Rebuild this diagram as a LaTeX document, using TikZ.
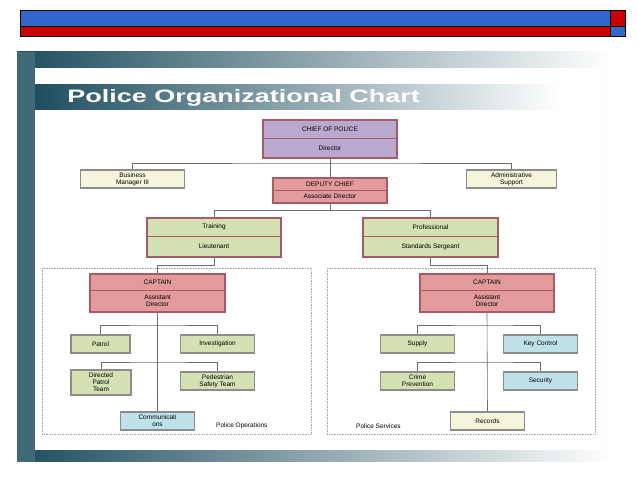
\documentclass[tikz,border=0pt]{standalone}
\usepackage{fontspec}
\setmainfont{Liberation Sans}
\usetikzlibrary{calc}
\definecolor{teal1}{HTML}{1F4E5F}
\definecolor{barblue}{HTML}{3366CC}
\definecolor{barred}{HTML}{CC0000}
\definecolor{purp}{HTML}{B9A9CF}
\definecolor{pinkf}{HTML}{E29A9A}
\definecolor{greenf}{HTML}{D5E0B3}
\definecolor{yelf}{HTML}{F5F5DC}
\definecolor{bluef}{HTML}{BFE1EA}
\definecolor{redb}{HTML}{A85A66}
\definecolor{grayb}{HTML}{8C8C8C}
\definecolor{lineg}{HTML}{6E6E6E}
\tikzset{
  big/.style={draw=redb,line width=1.3pt,inner sep=0pt},
  small/.style={draw=grayb,line width=1.5pt,inner sep=0pt,minimum width=74pt,minimum height=18pt,align=center,font=\fontsize{6.5}{7}\selectfont},
  lbl/.style={inner sep=0pt,align=center,font=\fontsize{6.5}{7}\selectfont},
  conn/.style={draw=lineg,line width=0.6pt},
  region/.style={draw=gray!70,densely dotted,line width=0.6pt}
}
\begin{document}
\begin{tikzpicture}[x=1pt,y=-1pt]
\useasboundingbox (0,0) rectangle (638,478);
\fill[white] (0,0) rectangle (638,478);
% top bars
\fill[barblue] (20,10) rectangle (610,26);
\fill[barred] (610,10) rectangle (625,26);
\fill[barred] (20,26) rectangle (610,36);
\fill[barblue] (610,26) rectangle (625,36);
\draw[black,line width=0.5pt] (20,10) rectangle (625,36) (610,10)--(610,36) (20,26)--(625,26);
% panel
\shade[left color=teal1,right color=white] (17,52) rectangle (612,462);
\fill[teal1!85] (17,52) rectangle (35,462);
\fill[white] (35,68) rectangle (600,450);
\shade[left color=teal1,right color=white] (35,85) rectangle (560,110);
\node[anchor=west,text=white,xscale=1.5,font=\bfseries\fontsize{18}{18}\selectfont] (title) at (62,97.5) {Police Organizational Chart};
% regions
\draw[region] (42,268) rectangle (311,434);
\draw[region] (327,268) rectangle (595,434);
\node[lbl,anchor=west] (ops) at (216,426) {Police Operations};
\node[lbl,anchor=west] (svc) at (356,426) {Police Services};
% two-part boxes
\newcommand{\twobox}[9]{% name, x1,y1,x2,y2,ydiv,fill,top,bottom
  \node[big,fill=#7,minimum width={#4-#2},minimum height={#5-#3}] (#1) at ({(#2+#4)/2},{(#3+#5)/2}) {};
  \draw[redb,line width=0.6pt] (#2,#6)--(#4,#6);
  \node[lbl] (#1t) at ({(#2+#4)/2},{(#3+#6)/2}) {#8};
  \node[lbl] (#1b) at ({(#2+#4)/2},{(#6+#5)/2}) {#9};}
\twobox{chief}{263}{120}{397}{158}{138}{purp}{CHIEF OF POLICE}{Director}
\twobox{deputy}{273}{178}{387}{203}{190}{pinkf}{DEPUTY CHIEF}{Associate Director}
\twobox{train}{147}{218}{281}{257}{236}{greenf}{Training}{Lieutenant}
\twobox{prof}{363}{218}{498}{257}{236}{greenf}{Professional}{Standards Sergeant}
\twobox{capl}{90}{274}{225}{312}{290}{pinkf}{CAPTAIN}{Assistant\\Director}
\twobox{capr}{420}{274}{554}{312}{290}{pinkf}{CAPTAIN}{Assistant\\Director}
% small boxes
\node[small,fill=yelf,minimum width=104pt] (bus) at (132.5,179) {Business\\Manager III};
\node[small,fill=yelf,minimum width=90pt] (adm) at (511.5,179) {Administrative\\Support};
\node[small,fill=greenf,minimum width=59pt] (patrol) at (100.5,344) {Patrol};
\node[small,fill=greenf] (inv) at (217.5,344) {Investigation};
\node[small,fill=greenf,minimum width=60pt,minimum height=25pt] (dir) at (101,382.5) {Directed\\Patrol\\Team};
\node[small,fill=greenf] (ped) at (217.5,381) {Pedestrian\\Safety Team};
\node[small,fill=bluef] (comm) at (157.5,421) {Communicati\\ons};
\node[small,fill=greenf] (sup) at (417.5,344) {Supply};
\node[small,fill=bluef] (key) at (540.5,344) {Key Control};
\node[small,fill=greenf] (crime) at (417.5,381) {Crime\\Prevention};
\node[small,fill=bluef] (sec) at (540.5,381) {Security};
\node[small,fill=yelf] (rec) at (487.5,421) {Records};
% connectors
\draw[conn] (chief.south)--(deputy.north);
\draw[conn] (bus.north) |- (330,163) -| (adm.north);
\draw[conn] (deputy.south) -- ++(0,7) coordinate (dj);
\draw[conn] (train.north) |- (dj) -| (prof.north);
\draw[conn] (train.south) -- ++(0,8) -| (capl.north);
\draw[conn] (prof.south) -- ++(0,8) -| (capr.north);
\draw[conn] (capl.south)--(comm.north);
\draw[conn] (patrol.north) |- (157.5,325) -| (inv.north);
\draw[conn] (dir.north) |- (157.5,362) -| (ped.north);
\draw[conn] (capr.south)--(rec.north);
\draw[conn] (sup.north) |- (487,325) -| (key.north);
\draw[conn] (crime.north) |- (487,362) -| (sec.north);
\end{tikzpicture}
\end{document}
